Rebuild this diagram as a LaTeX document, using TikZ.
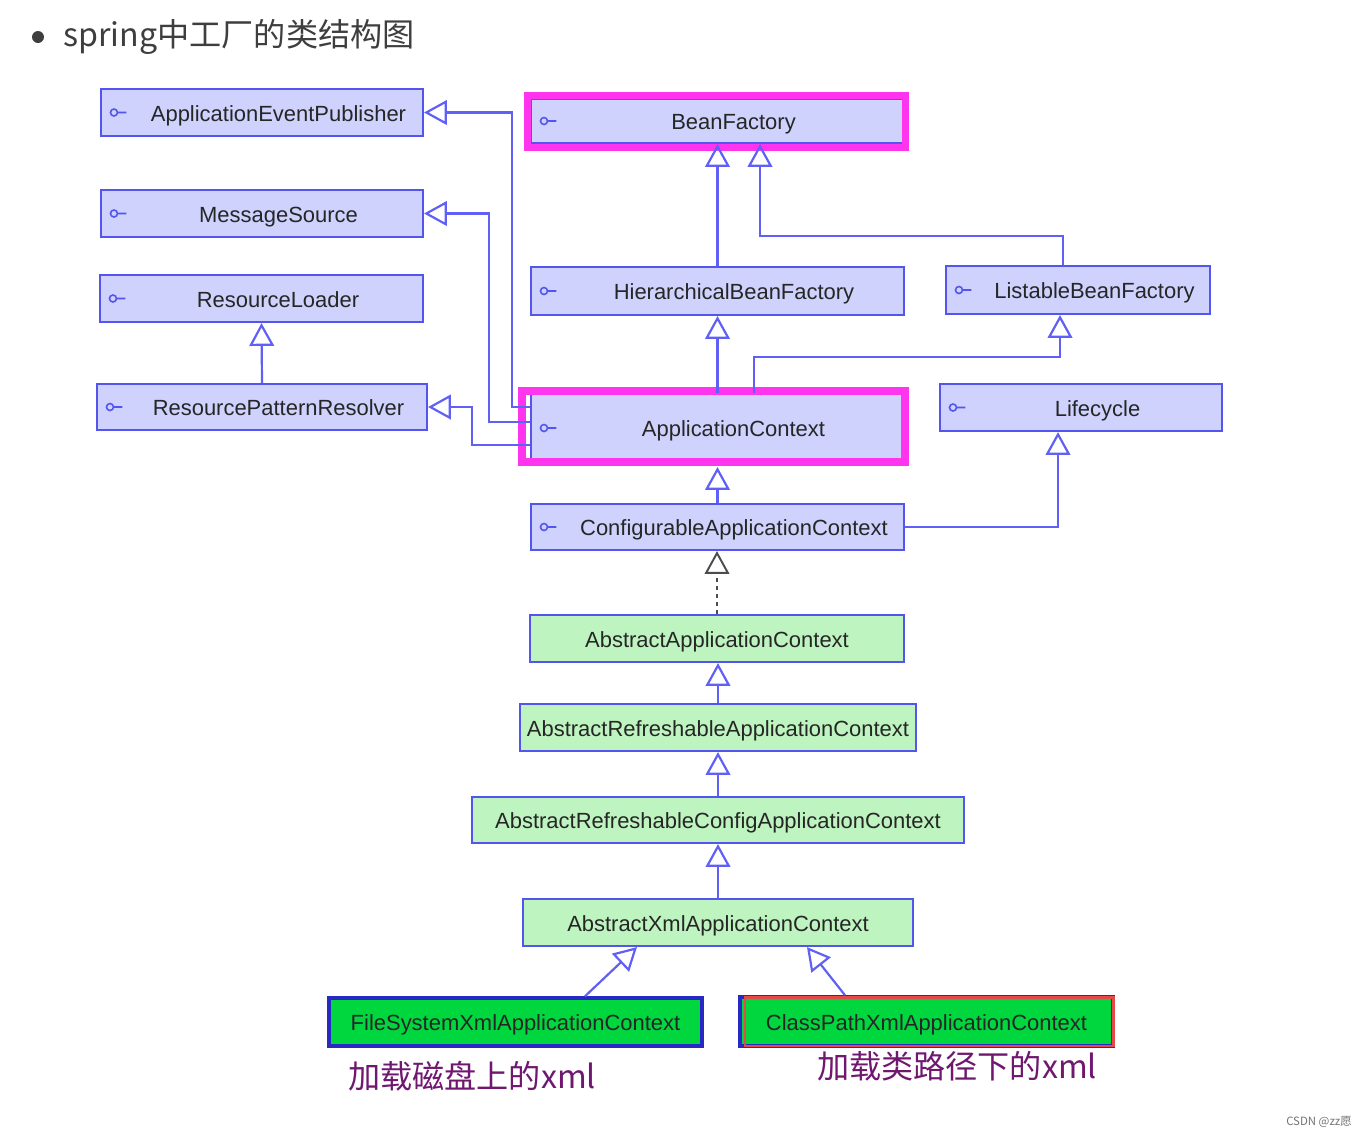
\documentclass[tikz,border=0pt]{standalone}
\usepackage{fontspec}
\usetikzlibrary{arrows.meta,calc}
\newfontfamily\boxfont{Liberation Sans}
\newfontfamily\cjkfont{Noto Sans CJK SC}
\definecolor{boxfill}{RGB}{206,210,252}
\definecolor{boxline}{RGB}{84,84,238}
\definecolor{linkc}{RGB}{96,96,246}
\definecolor{softgreen}{RGB}{190,244,192}
\definecolor{leafgreen}{RGB}{0,214,62}
\definecolor{leafline}{RGB}{40,40,196}
\definecolor{hilite}{RGB}{255,52,238}
\definecolor{redline}{RGB}{228,72,72}
\definecolor{notec}{RGB}{112,24,112}
\definecolor{titlec}{RGB}{62,62,62}
\tikzset{
  boxtext/.style={font=\boxfont\fontsize{12.5}{14}\selectfont, text={black!85}, inner sep=0pt,
    text height=11pt, text depth=1pt},
  iface/.style={boxtext, draw=boxline, fill=boxfill, line width=1.2pt,
    execute at begin node=\hspace*{0.66cm}},
  absclass/.style={boxtext, draw=boxline, fill=softgreen, line width=1.2pt},
  leaf/.style={boxtext, draw=leafline, fill=leafgreen, line width=2pt},
  icon/.style={draw=boxline, line width=0.9pt},
  impl/.style={draw=linkc, line width=1.25pt, -{Triangle[open, length=13pt, width=14pt]}},
  realize/.style={draw=black!70, line width=1.1pt, dash pattern=on 2.5pt off 2pt,
    -{Triangle[open, length=13pt, width=14pt]}},
  frame/.style={draw=hilite},
  note/.style={font=\cjkfont\fontsize{18.3}{20}\selectfont, text=notec, inner sep=0pt},
}

\begin{document}
\begin{tikzpicture}[x=0.02cm, y=-0.02cm]
\useasboundingbox (0,0) rectangle (1365,1137);

% title line
\fill[titlec] (38,37) circle (0.12cm);
\node[font=\cjkfont\fontsize{18.3}{22}\selectfont, text=titlec, inner sep=0pt, anchor=west] (title) at (63,37) {spring中工厂的类结构图};

% interfaces, left column
\node[iface, minimum width=6.44cm, minimum height=0.94cm] (aep) at (262,112.5) {ApplicationEventPublisher};
\node[iface, minimum width=6.44cm, minimum height=0.94cm] (ms) at (262,213.5) {MessageSource};
\node[iface, minimum width=6.46cm, minimum height=0.94cm] (rl) at (261.5,298.5) {ResourceLoader};
\node[iface, minimum width=6.60cm, minimum height=0.92cm] (rpr) at (262,407) {ResourcePatternResolver};

% interfaces, middle and right
\node[iface, minimum width=7.44cm, minimum height=0.88cm] (bf) at (717,121) {BeanFactory};
\node[iface, minimum width=7.46cm, minimum height=0.96cm] (hbf) at (717.5,291) {HierarchicalBeanFactory};
\node[iface, minimum width=5.28cm, minimum height=0.96cm] (lbf) at (1078,290) {ListableBeanFactory};
\node[iface, minimum width=7.44cm, minimum height=1.36cm] (ac) at (717,428) {ApplicationContext};
\node[iface, minimum width=5.64cm, minimum height=0.94cm] (lc) at (1081,407.5) {Lifecycle};
\node[iface, minimum width=7.46cm, minimum height=0.92cm] (cac) at (717.5,527) {ConfigurableApplicationContext};

% classes
\node[absclass, minimum width=7.48cm, minimum height=0.94cm] (aac) at (717,638.5) {AbstractApplicationContext};
\node[absclass, minimum width=7.92cm, minimum height=0.94cm] (arac) at (718,727.5) {AbstractRefreshableApplicationContext};
\node[absclass, minimum width=9.84cm, minimum height=0.92cm] (arcac) at (718,820) {AbstractRefreshableConfigApplicationContext};
\node[absclass, minimum width=7.80cm, minimum height=0.94cm] (axac) at (718,922.5) {AbstractXmlApplicationContext};
\node[leaf, minimum width=7.46cm, minimum height=0.96cm] (fsxac) at (515.5,1022) {FileSystemXmlApplicationContext};
\node[leaf, minimum width=7.46cm, minimum height=0.98cm] (cpxac) at (926.5,1021.5) {ClassPathXmlApplicationContext};

% the little interface marks
\foreach \n in {aep,ms,rl,rpr,bf,hbf,lbf,ac,lc,cac}
  \draw[icon] ([xshift=0.28cm]\n.west) circle (0.07cm) ++(0.07cm,0) -- ++(0.18cm,0);

% highlights
\draw[frame, line width=4pt] (527.5,95.5) rectangle (905.5,147.5);
\draw[frame, line width=4.5pt] (522,391) rectangle (905,462);
\draw[redline, line width=1.3pt] (745,997.5) rectangle (1113.5,1046);

% bends of the connectors
\coordinate (j1) at (512,407);
\coordinate (j2) at (489,422);
\coordinate (j3) at (472,445);
\coordinate (j4) at (760,236);
\coordinate (j5) at (754,357);

\draw[impl] (ac.west |- j1) -- (j1) |- (aep.east);
\draw[impl] (ac.west |- j2) -- (j2) |- (ms.east);
\draw[impl] (ac.west |- j3) -- (j3) |- (rpr.east);
\draw[impl] (rpr.north) -- (rl.south);
\draw[impl] (hbf.north) -- (hbf.north |- bf.south);
\draw[impl] ([xshift=-0.3cm]lbf.north) |- (j4) -- (j4 |- bf.south);
\draw[impl] (hbf.south |- ac.north) -- (hbf.south);
\draw[impl] (j5 |- ac.north) -- (j5) -| ([xshift=-0.36cm]lbf.south);
\draw[impl] (cac.north) -- ([yshift=-0.08cm]cac.north |- ac.south);
\draw[impl] (cac.east) -| ([xshift=-0.46cm]lc.south);
\draw[realize] (aac.north) -- (aac.north |- cac.south);
\draw[impl] (arac.north) -- (arac.north |- aac.south);
\draw[impl] (arcac.north) -- (arcac.north |- arac.south);
\draw[impl] (axac.north) -- (axac.north |- arcac.south);
\draw[impl] ([xshift=1.39cm]fsxac.north) -- ([xshift=-1.62cm]axac.south);
\draw[impl] ([xshift=-1.63cm]cpxac.north) -- ([xshift=1.78cm]axac.south);

% notes under the leaves
\node[note] (fsnote) at (472,1076) {加载磁盘上的xml};
\node[note] (cpnote) at (957,1066) {加载类路径下的xml};
\node[font=\cjkfont\fontsize{6.5}{8}\selectfont, text=black!55, inner sep=0pt] (csdn) at (1319,1122) {CSDN @zz愿};
\end{tikzpicture}
\end{document}
